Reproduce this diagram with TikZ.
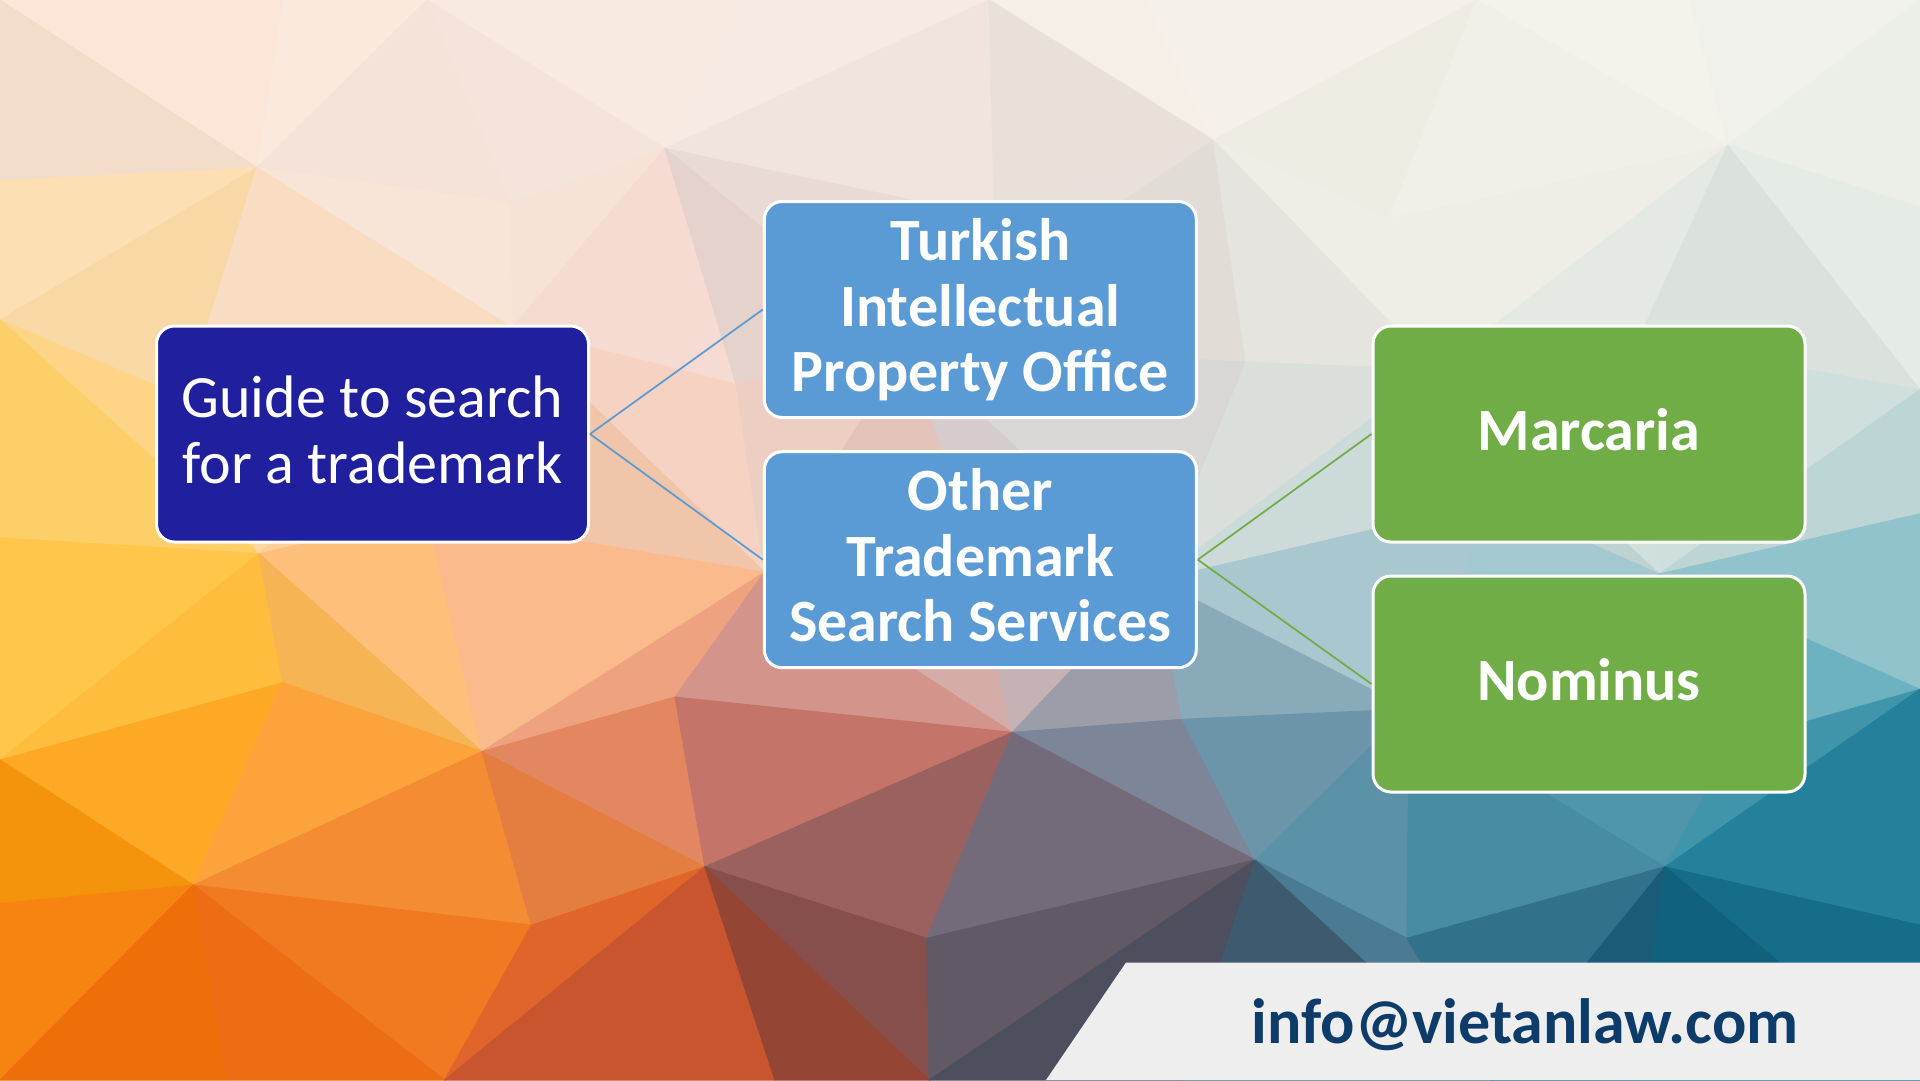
\documentclass[tikz,border=0pt]{standalone}
\usepackage{fontspec}
\setmainfont{Carlito}
\definecolor{guideblue}{HTML}{201F9E}
\definecolor{midblue}{HTML}{5B9BD5}
\definecolor{leafgreen}{HTML}{70AD47}
\definecolor{bandgrey}{HTML}{EEEEEE}
\definecolor{mailblue}{HTML}{0D3C6A}
% background vertex colours, grid x=240*i, y=180*j
\definecolor{v00}{HTML}{FCE2D0}\definecolor{v10}{HTML}{FCE8DA}\definecolor{v20}{HTML}{FBECE2}\definecolor{v30}{HTML}{F9EDE4}\definecolor{v40}{HTML}{F7EEE7}\definecolor{v50}{HTML}{F6F1EA}\definecolor{v60}{HTML}{F5F2EB}\definecolor{v70}{HTML}{F3F2EC}\definecolor{v80}{HTML}{EEF0EA}
\definecolor{v01}{HTML}{FDE2CC}\definecolor{v11}{HTML}{FBE5D8}\definecolor{v21}{HTML}{F8E6DE}\definecolor{v31}{HTML}{F4E2DC}\definecolor{v41}{HTML}{E8DAD6}\definecolor{v51}{HTML}{F2EEE6}\definecolor{v61}{HTML}{F5F2EA}\definecolor{v71}{HTML}{F0F0E8}\definecolor{v81}{HTML}{E6ECE6}
\definecolor{v02}{HTML}{FED474}\definecolor{v12}{HTML}{FDDCA8}\definecolor{v22}{HTML}{F8DCCC}\definecolor{v32}{HTML}{F2D4CC}\definecolor{v42}{HTML}{DED2D0}\definecolor{v52}{HTML}{E2E0DA}\definecolor{v62}{HTML}{E2E6E0}\definecolor{v72}{HTML}{DEE6E2}\definecolor{v82}{HTML}{D6E4E0}
\definecolor{v03}{HTML}{FED460}\definecolor{v13}{HTML}{FFCC6A}\definecolor{v23}{HTML}{FCC494}\definecolor{v33}{HTML}{F6C0AA}\definecolor{v43}{HTML}{E4C4C0}\definecolor{v53}{HTML}{C8D4D8}\definecolor{v63}{HTML}{BCD4D6}\definecolor{v73}{HTML}{B0D0D4}\definecolor{v83}{HTML}{C0D8DA}
\definecolor{v04}{HTML}{FFB210}\definecolor{v14}{HTML}{FFB83C}\definecolor{v24}{HTML}{FBA860}\definecolor{v34}{HTML}{E8887A}\definecolor{v44}{HTML}{A07882}\definecolor{v54}{HTML}{6A8AA0}\definecolor{v64}{HTML}{76AEC0}\definecolor{v74}{HTML}{5CAABE}\definecolor{v84}{HTML}{3AA0B4}
\definecolor{v05}{HTML}{F88A00}\definecolor{v15}{HTML}{FB8A14}\definecolor{v25}{HTML}{F47A28}\definecolor{v35}{HTML}{C4583A}\definecolor{v45}{HTML}{6E5260}\definecolor{v55}{HTML}{5A8098}\definecolor{v65}{HTML}{4A90A8}\definecolor{v75}{HTML}{1A6A88}\definecolor{v85}{HTML}{1A7A96}
\definecolor{v06}{HTML}{F06400}\definecolor{v16}{HTML}{EE620A}\definecolor{v26}{HTML}{E45E1E}\definecolor{v36}{HTML}{B04A32}\definecolor{v46}{HTML}{583236}\definecolor{v56}{HTML}{3A4050}\definecolor{v66}{HTML}{245068}\definecolor{v76}{HTML}{105A76}\definecolor{v86}{HTML}{0C6480}
\newcommand\ls{\rule[-12pt]{0pt}{57pt}}
\tikzset{
  box/.style={rectangle, rounded corners=18pt, draw=white, line width=3pt,
    minimum width=432pt, minimum height=216pt, inner sep=0pt, text=white,
    align=center, font=\fontsize{60}{65.7}\selectfont},
  boldbox/.style={box, font=\bfseries\fontsize{60}{65.7}\selectfont},
  link/.style={line width=1.75pt},
  facet/.style={line width=1pt, line join=round}
}
\begin{document}
\begin{tikzpicture}[x=1pt,y=-1pt]
\useasboundingbox (0,0) rectangle (1920,1080);
% ---- low-poly background ----
\foreach \i in {0,...,8}{\foreach \j in {0,...,6}{
  \pgfmathsetmacro\jx{(\i>0)*(\i<8)*55*sin(127*\i+251*\j)}
  \pgfmathsetmacro\jy{(\j>0)*(\j<6)*40*cos(163*\i+89*\j)}
  \coordinate (p\i\j) at (240*\i+\jx, 180*\j+\jy);
}}
\foreach \i in {0,...,7}{\foreach \j in {0,...,5}{
  \pgfmathtruncatemacro\ip{\i+1}
  \pgfmathtruncatemacro\jp{\j+1}
  \pgfmathtruncatemacro\ka{96+mod(\i*37+\j*53,5)}
  \pgfmathtruncatemacro\kb{97+mod(\i*29+\j*41,4)}
  \ifodd\numexpr\i+\j\relax
    \colorlet{tA}{v\i\j!50!v\ip\j!67!v\i\jp!\ka!white}
    \colorlet{tB}{v\ip\j!50!v\ip\jp!67!v\i\jp!\kb!black}
    \filldraw[facet, fill=tA, draw=tA] (p\i\j) -- (p\ip\j) -- (p\i\jp) -- cycle;
    \filldraw[facet, fill=tB, draw=tB] (p\ip\j) -- (p\ip\jp) -- (p\i\jp) -- cycle;
  \else
    \colorlet{tA}{v\i\j!50!v\ip\j!67!v\ip\jp!\ka!white}
    \colorlet{tB}{v\i\j!50!v\ip\jp!67!v\i\jp!\kb!black}
    \filldraw[facet, fill=tA, draw=tA] (p\i\j) -- (p\ip\j) -- (p\ip\jp) -- cycle;
    \filldraw[facet, fill=tB, draw=tB] (p\i\j) -- (p\ip\jp) -- (p\i\jp) -- cycle;
  \fi
}}
% ---- bottom band ----
\fill[bandgrey] (1126,962.5) -- (1920,962.5) -- (1920,1080) -- (1046,1080) -- cycle;
\node[font=\bfseries\fontsize{64}{70}\selectfont, text=mailblue, anchor=base, inner sep=0pt] (mail) at (1525,1043) {info@vietanlaw.com};
% ---- diagram ----
\node[box, fill=guideblue] (guide) at (372.5,434) {\ls Guide to search\\\ls for a trademark};
\node[boldbox, fill=midblue] (tipo) at (980.3,309.5) {\ls Turkish\\\ls Intellectual\\\ls Property Office};
\node[boldbox, fill=midblue] (other) at (980.3,559.7) {\ls Other\\\ls Trademark\\\ls Search Services};
\node[boldbox, fill=leafgreen] (marc) at (1589,434) {\ls Marcaria};
\node[boldbox, fill=leafgreen] (nomi) at (1589,684) {\ls Nominus};
\draw[link, draw=midblue] (guide.east) -- (tipo.west);
\draw[link, draw=midblue] (guide.east) -- (other.west);
\draw[link, draw=leafgreen] (other.east) -- (marc.west);
\draw[link, draw=leafgreen] (other.east) -- (nomi.west);
\end{tikzpicture}
\end{document}
